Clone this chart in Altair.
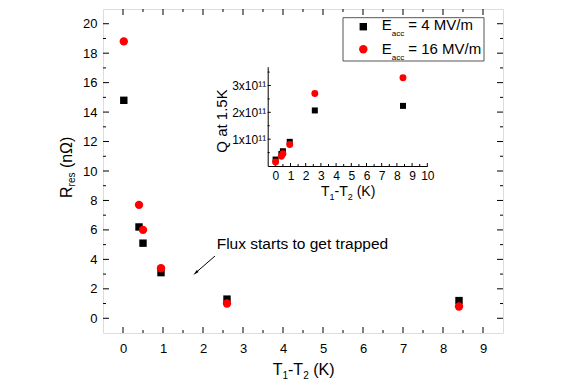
import altair as alt
import pandas as pd

FONT = "Liberation Sans"

# ---------------- data ----------------
t_diff = [0.02, 0.4, 0.5, 0.95, 2.6, 8.4]            # T1-T2 (K)
rres_4 = [14.8, 6.2, 5.1, 3.1, 1.3, 1.2]              # R_res (nOhm), Eacc = 4 MV/m
rres_16 = [18.8, 7.7, 6.0, 3.4, 1.0, 0.8]             # R_res (nOhm), Eacc = 16 MV/m
q_4 = [0.24e11, 0.45e11, 0.55e11, 0.90e11, 2.07e11, 2.24e11]   # Q at 1.5K, 4 MV/m
q_16 = [0.15e11, 0.36e11, 0.46e11, 0.80e11, 2.70e11, 3.29e11]  # Q at 1.5K, 16 MV/m

x_major = [0, 1, 2, 3, 4, 5, 6, 7, 8, 9]
x_minor = [0.5, 1.5, 2.5, 3.5, 4.5, 5.5, 6.5, 7.5, 8.5]
y_major = [0, 2, 4, 6, 8, 10, 12, 14, 16, 18, 20]
y_minor = [1, 3, 5, 7, 9, 11, 13, 15, 17, 19]
xi_major = [0, 1, 2, 3, 4, 5, 6, 7, 8, 9, 10]
xi_minor = [0.5, 1.5, 2.5, 3.5, 4.5, 5.5, 6.5, 7.5, 8.5, 9.5]
yi_major = [1e11, 2e11, 3e11]
yi_minor = [0.5e11, 1.5e11, 2.5e11, 3.5e11]

df4 = pd.DataFrame({"t": t_diff, "r": rres_4, "q": q_4})
df16 = pd.DataFrame({"t": t_diff, "r": rres_16, "q": q_16})
ONE = pd.DataFrame({"a": [0]})

W, H = 400, 324

# ---------------- text helpers ----------------
CW = {' ': 278, '(': 333, ')': 333, '-': 333, '.': 278, '/': 278, '=': 584,
      'E': 667, 'K': 667, 'M': 833, 'Q': 778, 'R': 722, 'T': 611, 'V': 667,
      'a': 556, 'c': 500, 'e': 556, 'm': 833, 'n': 556, 'r': 333, 's': 500,
      't': 278, 'x': 500, 'Ω': 768}


def tw(s, size):
    return sum(CW.get(c, 556) for c in s) * size / 1000.0


def rich(pieces, x, y, angle=0):
    layers = []
    pos = 0.0
    for s, size, shift in pieces:
        stripped = s.lstrip(" ")
        pos += tw(s[: len(s) - len(stripped)], size)
        if angle == 0:
            px, py = x + pos, y + shift
        else:
            px, py = x + shift, y - pos
        layers.append(
            alt.Chart(ONE).mark_text(text=stripped, font=FONT, fontSize=size, align="left",
                                     baseline="alphabetic", angle=angle, color="black")
            .encode(x=alt.value(px), y=alt.value(py))
        )
        pos += tw(stripped, size)
    return layers


# ---------------- main panel ----------------
xs_main = alt.Scale(domain=[-0.5, 9.5], nice=False, zero=False)
ys_main = alt.Scale(domain=[-1, 21], nice=False, zero=False)
ax_x_main = alt.Axis(orient="bottom", values=x_major, ticks=False, tickSize=0, domain=False, grid=False,
                     labelFont=FONT, labelFontSize=13, labelColor="black", labelPadding=9,
                     title=None, labelFlush=False, labelOverlap=False)
ax_y_main = alt.Axis(orient="left", values=y_major, ticks=False, tickSize=0, domain=False, grid=False,
                     labelFont=FONT, labelFontSize=13, labelColor="black", labelPadding=6,
                     title=None, labelFlush=False, labelOverlap=False)

X_MAIN = lambda f: alt.X(f, type="quantitative", scale=xs_main, axis=ax_x_main)
Y_MAIN = lambda f: alt.Y(f, type="quantitative", scale=ys_main, axis=ax_y_main)

main_sq = alt.Chart(df4).mark_point(shape="square", filled=True, size=55, color="black", opacity=1).encode(
    x=X_MAIN("t"), y=Y_MAIN("r"))
main_ci = alt.Chart(df16).mark_point(shape="circle", filled=True, size=70, color="red", opacity=1).encode(
    x=X_MAIN("t"), y=Y_MAIN("r"))


def xticks(vals, y0, y1):
    return alt.Chart(pd.DataFrame({"t": vals})).mark_rule(color="black", strokeWidth=1).encode(
        x=X_MAIN("t"), y=alt.value(y0), y2=alt.value(y1))


def yticks(vals, x0, x1):
    return alt.Chart(pd.DataFrame({"r": vals})).mark_rule(color="black", strokeWidth=1).encode(
        y=Y_MAIN("r"), x=alt.value(x0), x2=alt.value(x1))


main = alt.layer(
    xticks(x_major, H, H - 6), xticks(x_minor, H, H - 3),
    xticks(x_major, 0, 6), xticks(x_minor, 0, 3),
    yticks(y_major, 0, 6), yticks(y_minor, 0, 3),
    yticks(y_major, W, W - 6), yticks(y_minor, W, W - 3),
    main_sq, main_ci,
)

# ---------------- inset panel ----------------
IX0, IX1 = 164.7, 324.3
IY0, IY1 = 157, 57.7
xs_in = alt.Scale(domain=[-0.5, 10], range=[IX0, IX1], nice=False, zero=False)
ys_in = alt.Scale(domain=[0, 3.7e11], range=[IY0, IY1], nice=False, zero=False)
ax_x_in = alt.Axis(orient="bottom", offset=-(H - IY0), values=xi_major, ticks=False, tickSize=0,
                   domain=True, domainColor="black", domainWidth=1, grid=False,
                   labelFont=FONT, labelFontSize=12, labelColor="black", labelPadding=4,
                   title=None, labelFlush=False, labelOverlap=False)
ax_y_in = alt.Axis(orient="left", offset=-IX0, values=yi_major, ticks=False, tickSize=0,
                   domain=True, domainColor="black", domainWidth=1, grid=False,
                   labelExpr="format(datum.value/1e11, 'd') + 'x10¹¹'",
                   labelFont=FONT, labelFontSize=12, labelColor="black", labelPadding=2,
                   title=None, labelFlush=False, labelOverlap=False)

X_IN = lambda f: alt.X(f, type="quantitative", scale=xs_in, axis=ax_x_in)
Y_IN = lambda f: alt.Y(f, type="quantitative", scale=ys_in, axis=ax_y_in)

in_sq = alt.Chart(df4).mark_point(shape="square", filled=True, size=36, color="black", opacity=1).encode(
    x=X_IN("t"), y=Y_IN("q"))
in_ci = alt.Chart(df16).mark_point(shape="circle", filled=True, size=48, color="red", opacity=1).encode(
    x=X_IN("t"), y=Y_IN("q"))


def ixticks(vals, y0, y1):
    return alt.Chart(pd.DataFrame({"t": vals})).mark_rule(color="black", strokeWidth=1).encode(
        x=X_IN("t"), y=alt.value(y0), y2=alt.value(y1))


def iyticks(vals, x0, x1):
    return alt.Chart(pd.DataFrame({"q": vals})).mark_rule(color="black", strokeWidth=1).encode(
        y=Y_IN("q"), x=alt.value(x0), x2=alt.value(x1))


inset = alt.layer(
    ixticks(xi_major, IY0, IY0 - 3), ixticks(xi_minor, IY0, IY0 - 2),
    iyticks(yi_major, IX0, IX0 + 3), iyticks(yi_minor, IX0, IX0 + 2),
    in_sq, in_ci,
)

# ---------------- annotations / legend / titles ----------------
texts = []
texts += rich([("T", 16, 0), ("1", 10, 4), ("-T", 16, 0), ("2", 10, 4), (" (K)", 16, 0)], 169.7, 366)
texts += rich([("R", 16, 0), ("res", 10, 3), (" (nΩ)", 16, 0)], -31, 189, angle=270)
texts += rich([("T", 14, 0), ("1", 9, 3.5), ("-T", 14, 0), ("2", 9, 3.5), (" (K)", 14, 0)], 218, 187)
texts.append(
    alt.Chart(ONE).mark_text(text="Q at 1.5K", font=FONT, fontSize=15, align="center",
                             baseline="alphabetic", angle=270, color="black")
    .encode(x=alt.value(124), y=alt.value(112))
)
texts.append(
    alt.Chart(ONE).mark_text(text="Flux starts to get trapped", font=FONT, fontSize=15.5, align="left",
                             baseline="alphabetic", color="black")
    .encode(x=alt.value(113.7), y=alt.value(240))
)

arrow_line = alt.Chart(ONE).mark_rule(color="black", strokeWidth=1).encode(
    x=alt.value(112), y=alt.value(247), x2=alt.value(93), y2=alt.value(263.5))
arrow_head = alt.Chart(ONE).mark_point(shape="M0,-1L0.38,0.7L-0.38,0.7Z", filled=True, size=50,
                                       angle=228, color="black", opacity=1).encode(
    x=alt.value(92.9), y=alt.value(263.7))

legend_box = alt.Chart(ONE).mark_rect(fill="white", stroke="#555555", strokeWidth=1).encode(
    x=alt.value(240), x2=alt.value(381), y=alt.value(8.7), y2=alt.value(52))
leg_sq = alt.Chart(ONE).mark_point(shape="square", filled=True, size=55, color="black", opacity=1).encode(
    x=alt.value(260.3), y=alt.value(17.7))
leg_ci = alt.Chart(ONE).mark_point(shape="circle", filled=True, size=70, color="red", opacity=1).encode(
    x=alt.value(260.3), y=alt.value(40.3))
leg_txt = rich([("E", 15, 0), ("acc", 8, 5.5), (" = 4 MV/m", 15, 0)], 278.7, 21)
leg_txt += rich([("E", 15, 0), ("acc", 8, 5.5), (" = 16 MV/m", 15, 0)], 278.7, 45.3)

chart = alt.layer(
    main, inset, arrow_line, arrow_head, legend_box, leg_sq, leg_ci, *leg_txt, *texts
).resolve_scale(x="independent", y="independent").properties(
    width=W, height=H,
    padding={"left": 95, "top": 1, "right": 57, "bottom": 47},
    autosize="none",
).configure_view(stroke="black", strokeWidth=1).configure(background="white")

chart.save("out.html", embed_options={"renderer": "svg", "actions": False})
